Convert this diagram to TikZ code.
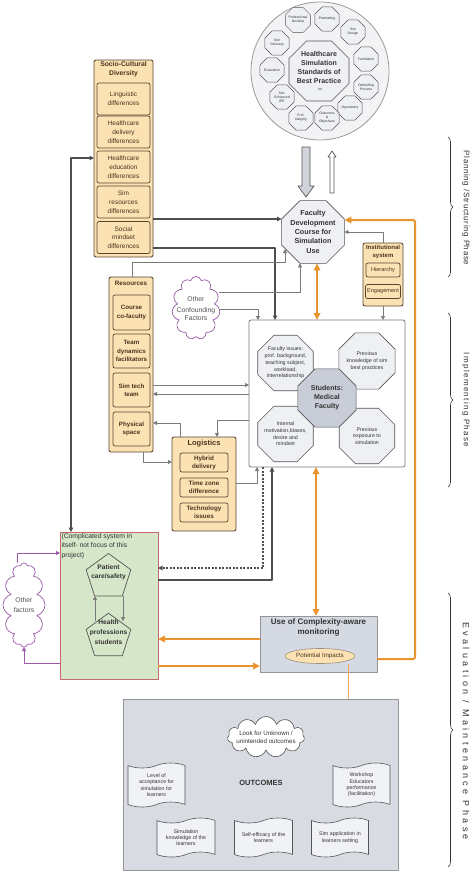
\documentclass[tikz,border=0pt]{standalone}
\usepackage{fontspec}
\setmainfont{Liberation Sans}
\usetikzlibrary{shapes.geometric,shapes.symbols,arrows.meta,decorations.pathreplacing}
\definecolor{ofill}{HTML}{FCE2B2}
\definecolor{obrd}{HTML}{5A4530}
\definecolor{otxt}{HTML}{4A3520}
\definecolor{octf}{HTML}{EEF0F4}
\definecolor{octd}{HTML}{555555}
\definecolor{stf}{HTML}{C9CDD8}
\definecolor{dkl}{HTML}{4F4F4F}
\definecolor{tnl}{HTML}{7A7A7A}
\definecolor{orl}{HTML}{E8942F}
\definecolor{grf}{HTML}{D6E7C9}
\definecolor{grd}{HTML}{C46A6A}
\definecolor{cxf}{HTML}{D5D9E2}
\definecolor{ouf}{HTML}{D8DBE2}
\definecolor{pur}{HTML}{9A5AA8}
\definecolor{txt}{HTML}{333333}
\definecolor{cirf}{HTML}{F3F3F5}
\definecolor{cird}{HTML}{9A9A9A}
\definecolor{bigf}{HTML}{D0D3DA}
\definecolor{tapef}{HTML}{F1F2F5}
\newcommand\fsz[2]{\fontsize{#1}{#2}\selectfont}
\begin{document}
\begin{tikzpicture}[x=1pt,y=-1pt,>={Triangle[length=4.5pt,width=4.5pt]},line join=round,
  every node/.style={inner sep=0,outer sep=0},
  obox/.style={draw=obrd,fill=ofill,rounded corners=2pt,line width=0.9pt,text=otxt,align=center},
  ibox/.style={obox,line width=0.7pt},
  octo/.style={regular polygon,regular polygon sides=8,draw=octd,fill=octf,line width=0.6pt},
  ttl/.style={align=center,text=txt},
  stx/.style={align=center,text=txt,font=\fsz{3.4}{4}},
  dk/.style={draw=dkl,line width=1.5pt},
  tn/.style={draw=tnl,line width=0.8pt,>={Triangle[length=4pt,width=4pt]}},
  org/.style={draw=orl,line width=2pt,rounded corners=1.5pt,>={Triangle[length=7pt,width=6.5pt]}},
  pl/.style={draw=pur,line width=0.8pt,>={Triangle[length=4pt,width=4pt]}},
  cld/.style={cloud,cloud puffs=11,cloud ignores aspect,draw=pur,fill=white,line width=0.7pt},
  tp/.style={tape,tape bend top=in and out,tape bend bottom=in and out,tape bend height=5pt,draw=octd,fill=tapef,line width=0.6pt,align=center,text=txt,font=\fsz{5.3}{6.3}},
  brc/.style={draw=txt,line width=0.6pt,decorate,decoration={brace,amplitude=5pt}},
  ph/.style={rotate=-90,text=txt}]
\fill[white] (0,0) rectangle (474,873);
\useasboundingbox (0,0) rectangle (474,873);

% ---------- Standards circle ----------
\node[circle,draw=cird,fill=cirf,line width=0.8pt,minimum size=138] (hss) at (320,71) {};
\node[octo,minimum size=65] (hsc) at (319,71) {};
\node[ttl,font=\bfseries\fsz{7}{9.3}] (hsct) at (319,67.5) {Healthcare\\Simulation\\Standards of\\Best Practice};
\node[text=txt,font=\fsz{3}{3}] (hstm) at (320,89) {TM};
\node[octo,minimum size=27,line width=0.5pt] (s1) at (298,20) {};
\node[stx] (s1t) at (s1) {Professional\\Develop};
\node[octo,minimum size=26,line width=0.5pt] (s2) at (327,19) {};
\node[stx] (s2t) at (s2) {Prebriefing};
\node[octo,minimum size=26,line width=0.5pt] (s3) at (353,32) {};
\node[stx] (s3t) at (s3) {Sim\\Design};
\node[octo,minimum size=26,line width=0.5pt] (s4) at (366,59) {};
\node[stx] (s4t) at (s4) {Facilitation};
\node[octo,minimum size=26,line width=0.5pt] (s5) at (366,87) {};
\node[stx] (s5t) at (s5) {Debriefing\\Process};
\node[octo,minimum size=26,line width=0.5pt] (s6) at (350,108) {};
\node[stx] (s6t) at (s6) {Operations};
\node[octo,minimum size=26,line width=0.5pt] (s7) at (327,118) {};
\node[stx] (s7t) at (s7) {Outcomes\\\&\\Objectives};
\node[octo,minimum size=26,line width=0.5pt] (s8) at (301,118) {};
\node[stx] (s8t) at (s8) {Prof.\\Integrity};
\node[octo,minimum size=26,line width=0.5pt] (s9) at (282,97) {};
\node[stx] (s9t) at (s9) {Sim-\\Enhanced\\IPE};
\node[octo,minimum size=26,line width=0.5pt] (s10) at (272,70) {};
\node[stx] (s10t) at (s10) {Evaluation};
\node[octo,minimum size=26,line width=0.5pt] (s11) at (277,43) {};
\node[stx] (s11t) at (s11) {Sim\\Glossary};

% big arrows between standards and faculty course
\draw[draw=octd,fill=bigf,line width=0.7pt] (302,147) -- (310,147) -- (310,186) -- (314,186) -- (306,197) -- (298,186) -- (302,186) -- cycle;
\draw[draw=octd,fill=white,line width=0.7pt] (330,193) -- (334,193) -- (334,157) -- (336,157) -- (332,151) -- (328,157) -- (330,157) -- cycle;

% ---------- Faculty development ----------
\node[octo,minimum size=68] (fdc) at (313,232) {};
\node[ttl,font=\bfseries\fsz{7.2}{9.4}] (fdct) at (fdc) {Faculty\\Development\\Course for\\Simulation\\Use};

% ---------- Socio-cultural ----------
\node[obox,minimum width=59,minimum height=197] (socio) at (123.5,158.5) {};
\node[ttl,text=otxt,font=\bfseries\fsz{6.8}{8.6}] (sociot) at (123.5,69.5) {Socio-Cultural\\Diversity};
\node[ibox,minimum width=53,minimum height=32,font=\fsz{6.5}{8.8}] (ling) at (123.5,99) {Linguistic\\differences};
\node[ibox,minimum width=53,minimum height=32,font=\fsz{6.5}{8.8}] (hcd) at (123.5,132) {Healthcare\\delivery\\differences};
\node[ibox,minimum width=53,minimum height=32,font=\fsz{6.5}{8.8}] (hce) at (123.5,167) {Healthcare\\education\\differences};
\node[ibox,minimum width=53,minimum height=32,font=\fsz{6.5}{8.8}] (simr) at (123.5,202) {Sim\\resources\\differences};
\node[ibox,minimum width=53,minimum height=32,font=\fsz{6.5}{8.8}] (socm) at (123.5,237.5) {Social\\mindset\\differences};

% ---------- Institutional ----------
\node[obox,minimum width=40,minimum height=63] (inst) at (383,274.5) {};
\node[ttl,text=otxt,font=\bfseries\fsz{6}{7.6}] (instt) at (383,252) {Institutional\\system};
\node[ibox,minimum width=34,minimum height=14,font=\fsz{5.6}{6.5}] (hier) at (383,270) {Hierarchy};
\node[ibox,minimum width=35,minimum height=14,font=\fsz{5.6}{6.5}] (eng) at (383,291.5) {Engagement};

% ---------- Resources ----------
\node[obox,minimum width=44,minimum height=175] (res) at (131,364.5) {};
\node[ttl,text=otxt,font=\bfseries\fsz{6.3}{7.5}] (rest) at (131,283) {Resources};
\node[ibox,minimum width=37,minimum height=35,font=\bfseries\fsz{6.2}{8.2}] (cof) at (131.5,312.5) {Course\\co-faculty};
\node[ibox,minimum width=37,minimum height=34,font=\bfseries\fsz{6.2}{8.2}] (tdf) at (131.5,351) {Team\\dynamics\\facilitators};
\node[ibox,minimum width=37,minimum height=34,font=\bfseries\fsz{6.2}{8.2}] (stt) at (131.5,390) {Sim tech\\team};
\node[ibox,minimum width=37,minimum height=34,font=\bfseries\fsz{6.2}{8.2}] (phs) at (131.5,429) {Physical\\space};

% ---------- Other confounding factors ----------
\node[cld,minimum width=48,minimum height=63] (ocf) at (196,308) {};
\node[ttl,text=txt!85,font=\fsz{6.8}{8}] (ocft) at (196,309) {Other\\[3pt]Confounding\\Factors};

% ---------- Students box ----------
\node[draw=tnl,fill=white,rounded corners=2pt,line width=0.8pt,minimum width=156,minimum height=147] (stud) at (327,393.5) {};
\node[octo,minimum size=60] (fi) at (285.5,363) {};
\node[ttl,font=\fsz{5.3}{6.7}] (fit) at (fi) {Faculty issues:\\prof. background,\\teaching subject,\\workload,\\interrelationship};
\node[octo,minimum size=61] (pk) at (367,361) {};
\node[ttl,font=\fsz{5.3}{6.7}] (pkt) at (pk) {Previous\\knowledge of sim\\best practices};
\node[octo,minimum size=60] (im) at (285.5,434) {};
\node[ttl,font=\fsz{5.3}{6.7}] (imt) at (im) {Internal\\motivation,biases,\\desire and\\mindset};
\node[octo,minimum size=60] (pe) at (367,436) {};
\node[ttl,font=\fsz{5.3}{6.7}] (pet) at (pe) {Previous\\exposure to\\simulation};
\node[octo,minimum size=63,fill=stf] (st) at (327,398) {};
\node[ttl,font=\bfseries\fsz{7}{9}] (stt2) at (st) {Students:\\Medical\\Faculty};

% ---------- Logistics ----------
\node[obox,minimum width=64,minimum height=94] (log) at (204,484) {};
\node[ttl,text=otxt,font=\bfseries\fsz{7.5}{8}] (logt) at (204,443.5) {Logistics};
\node[ibox,minimum width=48,minimum height=19,font=\bfseries\fsz{6.3}{7.8}] (hyb) at (204,462.5) {Hybrid\\delivery};
\node[ibox,minimum width=48,minimum height=19,font=\bfseries\fsz{6.3}{7.8}] (tzd) at (204,487.5) {Time zone\\difference};
\node[ibox,minimum width=48,minimum height=19,font=\bfseries\fsz{6.3}{7.8}] (tec) at (204,512.5) {Technology\\issues};

% ---------- Green complicated system ----------
\node[draw=grd,fill=grf,line width=0.8pt,minimum width=98,minimum height=147] (grn) at (109,605.5) {};
\node[anchor=north west,align=left,text=txt,font=\fsz{6.8}{9.4}] (grnt) at (61.5,533.5) {(Complicated system in\\itself- not focus of this\\project)};
\node[regular polygon,regular polygon sides=5,draw=octd,fill=grf,line width=0.7pt,minimum size=47] (pcs) at (108.5,577) {};
\node[ttl,font=\bfseries\fsz{6.6}{9}] (pcst) at (108.5,572.5) {Patient\\care/safety};
\node[regular polygon,regular polygon sides=5,draw=octd,fill=grf,line width=0.7pt,minimum size=47] (hps) at (108.5,636.7) {};
\node[ttl,font=\bfseries\fsz{6.6}{9.8}] (hpst) at (108.5,632) {Health\\professions\\students};

% ---------- Other factors ----------
\node[cld,cloud puffs=12,minimum width=42,minimum height=84] (oth) at (24,605) {};
\node[ttl,text=txt!85,font=\fsz{6.8}{9.4}] (otht) at (24,605) {Other\\factors};

% ---------- Complexity-aware monitoring ----------
\node[draw=tnl!80,fill=cxf,line width=0.7pt,minimum width=117,minimum height=56] (cx) at (318.5,644) {};
\node[ttl,font=\bfseries\fsz{8}{10.8}] (cxt) at (318.5,627.5) {Use of Complexity-aware\\monitoring};
\node[ellipse,draw=obrd!60,fill=ofill,line width=0.6pt,minimum width=70,minimum height=15,text=otxt,font=\fsz{6.2}{7}] (pi) at (320,656) {Potential Impacts};

% ---------- Outcomes ----------
\node[draw=tnl!80,fill=ouf,line width=0.7pt,minimum width=275,minimum height=171] (out) at (260.5,784.5) {};
\node[text=txt,font=\bfseries\fsz{7.5}{8}] (outt) at (261,783) {OUTCOMES};
\node[cloud,cloud puffs=11,cloud ignores aspect,draw=octd,fill=white,line width=0.6pt,minimum width=77,minimum height=41] (lfu) at (266,737) {};
\node[ttl,font=\fsz{6.2}{8.3}] (lfut) at (lfu) {Look for Unknown /\\unintended outcomes};
\node[tp,minimum width=57,minimum height=44] (loa) at (156.5,785) {Level of\\acceptance for\\simulation for\\learners};
\node[tp,minimum width=57,minimum height=44] (wep) at (361.5,785) {Workshop\\Educators\\performance\\(facilitation)};
\node[tp,minimum width=58,minimum height=39] (skl) at (186,837.5) {Simulation\\knowledge of the\\learners};
\node[tp,minimum width=58,minimum height=39] (sel) at (263.5,837.5) {Self-efficacy of the\\learners};
\node[tp,minimum width=57,minimum height=39] (sal) at (340,837.5) {Sim application in\\learners setting};

% ---------- Phase braces ----------
\draw[brc] (448,137) -- (448,277);
\node[ph,font=\fsz{8}{9}\addfontfeature{LetterSpace=8}] (ph1) at (466,208) {Planning /Structuring Phase};
\draw[brc] (448,313) -- (448,487);
\node[ph,font=\fsz{8}{9}\addfontfeature{LetterSpace=17}] (ph2) at (466,400) {Implementing Phase};
\draw[brc] (448,593) -- (448,867);
\node[ph,font=\fsz{9}{10}\addfontfeature{LetterSpace=38}] (ph3) at (466,731) {Evaluation / Maintenance Phase};

% ---------- Connectors ----------
\draw[dk,->] (socio.east |- 0,219) -- (fdc.west |- 0,219);
\draw[dk,->] (socio.east |- 0,248) -| (stud.north -| 275,0);
\draw[tn,->] (res.north -| 132,0) |- (285,262) -- (285,249);
\draw[tn,->] (ocf.east |- 0,292) -| (fdc.south -| 300,0);
\draw[tn,->] (ocf.east |- 0,309) -| (stud.north -| 258,0);
\draw[org,<->] (fdc.south -| 317,0) -- (stud.north -| 317,0);
\draw[tn,->] (inst.south) -- (stud.north -| inst.south);
\draw[tn,->] (inst.north) |- (fdc.east);
\draw[org,->] (cx.east |- 0,659) -| (415,220) -- (fdc.east |- 0,220);
\draw[org,<->] (stud.south -| 316,0) -- (cx.north -| 316,0);
\draw[tn,->] (res.east |- 0,385) -- (stud.west |- 0,385);
\draw[tn,->] (stud.west |- 0,394) -- (res.east |- 0,394);
\draw[tn,->] (stud.west |- 0,420) -| (log.north -| 217,0);
\draw[tn,->] (log.north -| 180,0) |- (res.east |- 0,423);
\draw[tn,->] (res.south -| 143,0) |- (log.west |- 0,462);
\draw[tn,->] (log.east |- 0,483) -| (stud.south -| 257,0);
\draw[dk,line width=1.2pt,dash pattern=on 2pt off 1.5pt,->] (stud.south -| 263,0) |- (grn.east |- 0,568);
\draw[dk,->] (grn.east |- 0,580) -| (stud.south -| 272,0);
\draw[dk,<->] (grn.north -| 71,0) |- (socio.west |- 0,158);
\draw[pl,->] ([xshift=-7pt]oth.north) |- (grn.west |- 0,553);
\draw[pl,->] (grn.west |- 0,663) -| (oth.south);
\draw[org,->] (cx.west |- 0,639) -- (grn.east |- 0,639);
\draw[org,->] (grn.east |- 0,666) -- (cx.west |- 0,666);
\draw[tn,->] ([xshift=-13.5pt]hps.north |- 0,621) -- ([xshift=-13.5pt]pcs.south);
\draw[tn,->] ([xshift=14.5pt]pcs.south) -- ([xshift=14.5pt]pcs.south |- 0,621);
\draw[draw=orl!80,line width=0.6pt] (pi.south -| 348,0) -- (out.north -| 348,0);
\end{tikzpicture}
\end{document}
